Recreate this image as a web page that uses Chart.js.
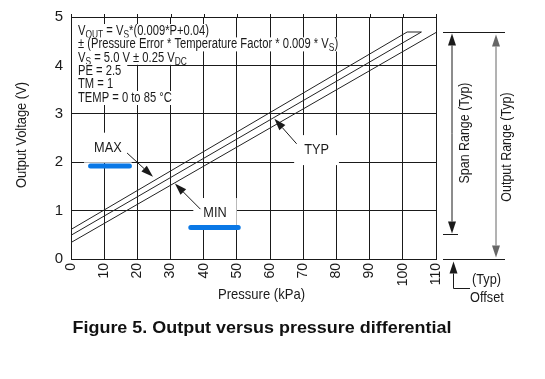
<!DOCTYPE html>
<html>
<head>
<meta charset="utf-8">
<script src="https://cdn.jsdelivr.net/npm/chart.js@4/dist/chart.umd.min.js"></script>
<style>
  html, body { margin: 0; padding: 0; background: #fff; }
  #wrap { width: 545px; height: 379px; position: relative; }
</style>
</head>
<body>
<div id="wrap"><canvas id="grafico"></canvas></div>
<script>
// valores (Pressure kPa -> Output V)
var maxP = [0, 101.3, 105.6];
var maxV = [0.61, 4.69, 4.69];
var typP = [0, 105.6];
var typV = [0.49, 4.69];
var minP = [0, 110];
var minV = [0.34, 4.68];
var xTicks = [0, 10, 20, 30, 40, 50, 60, 70, 80, 90, 100, 110];
var yTicks = [0, 1, 2, 3, 4, 5];

var SANS = '"Liberation Sans", Arial, sans-serif';
var INK = '#1a1a1a';

function puntos(px, vy) {
    return px.map(function (p, i) { return { x: p, y: vy[i] }; });
}

// texto angosto (la fuente original es tipo Arial Narrow)
function textoAngosto(ctx, text, x, y, size, esc, rot) {
    ctx.save();
    ctx.translate(x, y);
    if (rot) ctx.rotate(rot);
    ctx.scale(esc, 1);
    ctx.font = size + 'px ' + SANS;
    ctx.fillText(text, 0, 0);
    ctx.restore();
}

// texto con subindices: partes = [[texto, esSub], ...]
function textoRico(ctx, x, y, partes, size, esc) {
    ctx.save();
    ctx.translate(x, y);
    ctx.scale(esc, 1);
    var cx = 0;
    partes.forEach(function (p) {
        if (p[1]) {
            ctx.font = (size * 0.75) + 'px ' + SANS;
            ctx.fillText(p[0], cx, size * 0.28);
        } else {
            ctx.font = size + 'px ' + SANS;
            ctx.fillText(p[0], cx, 0);
        }
        cx += ctx.measureText(p[0]).width;
    });
    ctx.restore();
}

function anchoRico(ctx, partes, size, esc) {
    var w = 0;
    partes.forEach(function (p) {
        ctx.font = (p[1] ? size * 0.75 : size) + 'px ' + SANS;
        w += ctx.measureText(p[0]).width;
    });
    return w * esc;
}

function flecha(ctx, x1, y1, x2, y2, color) {
    var ang = Math.atan2(y2 - y1, x2 - x1);
    var len = 12, half = 4;
    ctx.strokeStyle = color;
    ctx.fillStyle = color;
    ctx.lineWidth = 1;
    ctx.beginPath();
    ctx.moveTo(x1, y1);
    ctx.lineTo(x2 - Math.cos(ang) * len, y2 - Math.sin(ang) * len);
    ctx.stroke();
    ctx.beginPath();
    ctx.moveTo(x2, y2);
    ctx.lineTo(x2 - Math.cos(ang) * len - Math.sin(ang) * half, y2 - Math.sin(ang) * len + Math.cos(ang) * half);
    ctx.lineTo(x2 - Math.cos(ang) * len + Math.sin(ang) * half, y2 - Math.sin(ang) * len - Math.cos(ang) * half);
    ctx.closePath();
    ctx.fill();
}

function linea(ctx, x1, y1, x2, y2, color) {
    ctx.strokeStyle = color;
    ctx.lineWidth = 1;
    ctx.beginPath();
    ctx.moveTo(x1, y1);
    ctx.lineTo(x2, y2);
    ctx.stroke();
}

var lineasTexto = [
    [['V', 0], ['OUT', 1], [' = V', 0], ['S', 1], ['*(0.009*P+0.04)', 0]],
    [['\u00B1 (Pressure Error * Temperature Factor * 0.009 * V', 0], ['S', 1], [')', 0]],
    [['V', 0], ['S', 1], [' = 5.0 V \u00B1 0.25 V', 0], ['DC', 1]],
    [['PE = 2.5', 0]],
    [['TM = 1', 0]],
    [['TEMP = 0 to 85 \u00B0C', 0]]
];

var etiquetas = [
    { text: 'MAX', p: 11.1, v: 2.30 },
    { text: 'MIN', p: 43.4, v: 0.95 },
    { text: 'TYP', p: 74.0, v: 2.25 }
];

var anotaciones = {
    id: 'anotaciones',
    beforeDatasetsDraw: function (chart) {
        var ctx = chart.ctx;
        var a = chart.chartArea;
        var sx = chart.scales.x, sy = chart.scales.y;
        ctx.save();
        ctx.textBaseline = 'middle';
        ctx.textAlign = 'left';
        // cuadro de la formula
        var size = 14, esc = 0.8;
        lineasTexto.forEach(function (partes, i) {
            var y = a.top + 14 + i * 13.4;
            var w = anchoRico(ctx, partes, size, esc);
            ctx.fillStyle = '#fff';
            ctx.fillRect(a.left + 1, y - 7, w + 12, 14);
            ctx.fillStyle = INK;
            textoRico(ctx, a.left + 7, y, partes, size, esc);
        });
        // etiquetas MAX / MIN / TYP
        ctx.textAlign = 'center';
        etiquetas.forEach(function (e) {
            var x = sx.getPixelForValue(e.p), y = sy.getPixelForValue(e.v);
            ctx.font = '15px ' + SANS;
            var w = ctx.measureText(e.text).width * 0.85;
            ctx.fillStyle = '#fff';
            ctx.fillRect(x - w / 2 - 10, y - 15, w + 20, 30);
            ctx.fillStyle = INK;
            textoAngosto(ctx, e.text, x, y, 15, 0.85);
        });
        ctx.restore();
    },
    afterDraw: function (chart) {
        var ctx = chart.ctx;
        var a = chart.chartArea;
        var sx = chart.scales.x, sy = chart.scales.y;
        var X = function (p) { return sx.getPixelForValue(p); };
        var Y = function (v) { return sy.getPixelForValue(v); };
        ctx.save();
        // marcas sobre el borde superior
        xTicks.forEach(function (t) {
            linea(ctx, Math.round(X(t)) + 0.5, a.top - 3, Math.round(X(t)) + 0.5, a.top, INK);
        });
        // flechas de las curvas
        flecha(ctx, X(16.9), Y(2.19), X(24.7), Y(1.70), INK);
        flecha(ctx, X(39.0), Y(1.03), X(31.3), Y(1.56), INK);
        flecha(ctx, X(68.0), Y(2.38), X(61.3), Y(2.90), INK);
        // barras azules
        ctx.strokeStyle = '#0a78e6';
        ctx.lineWidth = 5;
        ctx.lineCap = 'round';
        ctx.beginPath();
        ctx.moveTo(X(5.9), Y(1.92)); ctx.lineTo(X(17.6), Y(1.92));
        ctx.moveTo(X(36.1), Y(0.65)); ctx.lineTo(X(50.4), Y(0.65));
        ctx.stroke();
        ctx.lineCap = 'butt';
        // rangos a la derecha
        var r = a.right;
        var yTop = Math.round(Y(4.69)) + 0.5;
        var ySpan = Math.round(Y(0.51)) + 0.5;
        var yBot = Math.round(Y(0)) + 0.5;
        linea(ctx, r + 7, yTop, r + 69, yTop, INK);
        linea(ctx, r + 7, ySpan, r + 22, ySpan, INK);
        linea(ctx, r + 7, yBot, r + 69, yBot, INK);
        flecha(ctx, r + 16, (yTop + ySpan) / 2, r + 16, yTop + 1, INK);
        flecha(ctx, r + 16, (yTop + ySpan) / 2, r + 16, ySpan - 1, INK);
        flecha(ctx, r + 60, (yTop + yBot) / 2, r + 60, yTop + 2, '#666');
        flecha(ctx, r + 60, (yTop + yBot) / 2, r + 60, yBot - 2, '#666');
        flecha(ctx, r + 17.5, yBot + 29, r + 17.5, yBot + 2, INK);
        linea(ctx, r + 17.5, yBot + 29, r + 34, yBot + 29, INK);
        ctx.fillStyle = INK;
        ctx.textAlign = 'left';
        ctx.textBaseline = 'middle';
        textoAngosto(ctx, '(Typ)', r + 36, yBot + 20, 15, 0.85);
        textoAngosto(ctx, 'Offset', r + 34, yBot + 38, 15, 0.85);
        ctx.textAlign = 'center';
        textoAngosto(ctx, 'Span Range (Typ)', r + 29, 133, 15, 0.83, -Math.PI / 2);
        textoAngosto(ctx, 'Output Range (Typ)', r + 71, 147, 15, 0.83, -Math.PI / 2);
        // titulos de ejes
        textoAngosto(ctx, 'Pressure (kPa)', 261.5, 295, 15, 0.87);
        textoAngosto(ctx, 'Output Voltage (V)', 22, 135, 15, 0.86, -Math.PI / 2);
        // titulo de la figura, ajustado al ancho original
        var tit = 'Figure 5. Output versus pressure differential';
        ctx.font = 'bold 17px ' + SANS;
        var esc = 379 / ctx.measureText(tit).width;
        ctx.fillStyle = '#111';
        ctx.save();
        ctx.translate(262, 328);
        ctx.scale(esc, 1);
        ctx.fillText(tit, 0, 0);
        ctx.restore();
        ctx.restore();
    }
};

var ctx = document.getElementById('grafico');
new Chart(ctx, {
    type: 'line',
    data: {
        datasets: [
            { label: 'MAX', data: puntos(maxP, maxV) },
            { label: 'TYP', data: puntos(typP, typV) },
            { label: 'MIN', data: puntos(minP, minV) }
        ].map(function (d) {
            d.borderColor = '#222';
            d.borderWidth = 1;
            d.pointRadius = 0;
            d.fill = false;
            d.tension = 0;
            return d;
        })
    },
    options: {
        responsive: true,
        maintainAspectRatio: false,
        animation: false,
        layout: { padding: { top: 16, right: 109, left: 0, bottom: 0 } },
        plugins: {
            legend: { display: false },
            tooltip: { enabled: false }
        },
        scales: {
            x: {
                type: 'linear',
                min: 0,
                max: 110,
                afterFit: function (scale) { scale.height = 120; },
                afterBuildTicks: function (scale) {
                    scale.ticks = xTicks.map(function (v) { return { value: v }; });
                },
                ticks: {
                    autoSkip: false,
                    minRotation: 90,
                    maxRotation: 90,
                    padding: 4,
                    color: INK,
                    font: { family: SANS, size: 14 }
                },
                grid: { color: INK, lineWidth: 1, drawTicks: false },
                border: { color: INK }
            },
            y: {
                min: 0,
                max: 5,
                afterFit: function (scale) { scale.width = 71; },
                afterBuildTicks: function (scale) {
                    scale.ticks = yTicks.map(function (v) { return { value: v }; });
                },
                ticks: {
                    padding: 8,
                    color: INK,
                    font: { family: SANS, size: 15 }
                },
                grid: { color: INK, lineWidth: 1, drawTicks: false },
                border: { color: INK }
            }
        }
    },
    plugins: [anotaciones]
});
</script>
</body>
</html>
